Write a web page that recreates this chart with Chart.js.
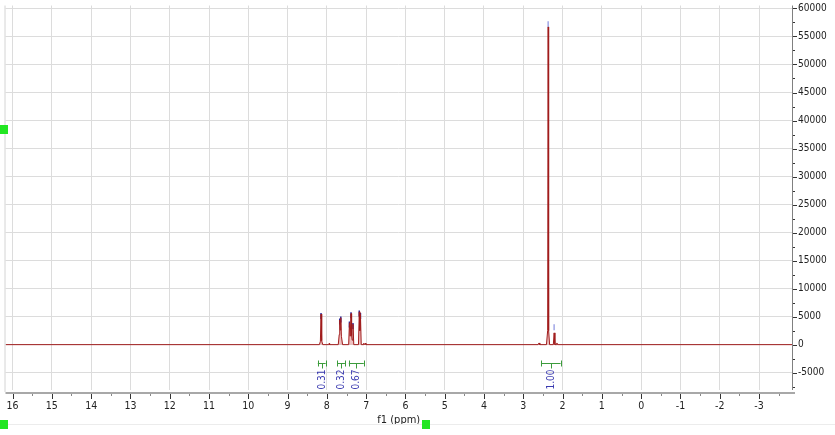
<!DOCTYPE html>
<html>
<head>
<meta charset="utf-8">
<script src="https://cdn.jsdelivr.net/npm/chart.js@4.4.0/dist/chart.umd.min.js"></script>
<style>
  body { margin: 0; background: #fff; }
  #wrap { position: relative; width: 835px; height: 435px; }
  .handle { position: absolute; width: 8px; height: 9px; background: #22e622; }
  #sep { position: absolute; left: 0; top: 424px; width: 835px; height: 1px; background: #ececec; }
</style>
</head>
<body>
<div id="wrap">
  <canvas id="nmr" width="835" height="435"></canvas>
  <div id="sep"></div>
  <div class="handle" style="left:0;top:125px"></div>
  <div class="handle" style="left:0;top:420px"></div>
  <div class="handle" style="left:422px;top:420px"></div>
</div>
<script>
// spectrum trace (ppm, intensity)
const spectrumPpm = [16.18,
  8.19, 8.165, 8.148, 8.138, 8.125, 8.105,
  7.95, 7.94, 7.93,
  7.71, 7.685, 7.672, 7.66, 7.645, 7.63, 7.60,
  7.445, 7.425, 7.405, 7.385, 7.37, 7.355, 7.335, 7.315,
  7.195, 7.175, 7.16, 7.145, 7.125,
  7.07, 7.06, 7.05, 7.03, 7.02, 7.005,
  2.62, 2.60, 2.58,
  2.41, 2.38, 2.367, 2.355, 2.33,
  2.235, 2.215, 2.195,
  2.16, 2.145, 2.13,
  -3.84];
const spectrumIntensity = [0,
  0, 600, 5450, 5100, 700, 0,
  0, 220, 0,
  0, 1800, 4400, 2600, 4800, 1500, 0,
  0, 3900, 1500, 5550, 1600, 800, 3650, 0,
  0, 5850, 2500, 5400, 0,
  0, 250, 0, 0, 250, 0,
  0, 300, 0,
  0, 2500, 56700, 2500, 0,
  0, 2100, 0,
  0, 300, 0,
  0];

// peak picking marks
const peakPpm = [8.148, 7.672, 7.645, 7.425, 7.385, 7.335, 7.175, 7.145, 2.367, 2.215];
const peakMark = [5100, 4150, 4500, 3600, 5250, 3350, 5550, 5100, 57200, 3100];
const peakColors = ['#2828a0','#2828a0','#2828a0','#2828a0','#2828a0','#2828a0','#2828a0','#2828a0','#a0a6e6','#a0a6e6'];

// integrals
const intStart = [8.23, 7.74, 7.44, 2.55];
const intEnd = [8.03, 7.54, 7.06, 2.05];
const intValue = ['0.31', '0.32', '0.67', '1.00'];

// axes
const xTickLabels = [16, 15, 14, 13, 12, 11, 10, 9, 8, 7, 6, 5, 4, 3, 2, 1, 0, -1, -2, -3];
const yTickLabels = [-5000, 0, 5000, 10000, 15000, 20000, 25000, 30000, 35000, 40000,
  45000, 50000, 55000, 60000];
const xMin = -3.84, xMax = 16.18;
const yMin = -8094, yMax = 60528;

const FONT = '"DejaVu Sans Condensed", "DejaVu Sans", sans-serif';

const axisDecor = {
  id: 'axisDecor',
  afterDatasetsDraw(chart) {
    const { ctx, scales: { x, y } } = chart;
    ctx.save();
    const barY = Math.round(y.getPixelForValue(-3200)) + 0.5;
    for (let i = 0; i < intValue.length; i++) {
      const x1 = x.getPixelForValue(intStart[i]);
      const x2 = x.getPixelForValue(intEnd[i]);
      const xc = Math.round((x1 + x2) / 2) + 0.5;
      ctx.strokeStyle = '#3c9c3c';
      ctx.lineWidth = 1;
      ctx.beginPath();
      ctx.moveTo(x1, barY); ctx.lineTo(x2, barY);
      ctx.moveTo(Math.round(x1) + 0.5, barY - 3); ctx.lineTo(Math.round(x1) + 0.5, barY + 3);
      ctx.moveTo(Math.round(x2) + 0.5, barY - 3); ctx.lineTo(Math.round(x2) + 0.5, barY + 3);
      ctx.moveTo(xc, barY); ctx.lineTo(xc, barY + 5);
      ctx.stroke();
      ctx.save();
      ctx.translate(xc, barY + 16);
      ctx.rotate(-Math.PI / 2);
      ctx.fillStyle = '#3a3ab0';
      ctx.font = '10px ' + FONT;
      ctx.textAlign = 'center';
      ctx.textBaseline = 'middle';
      ctx.fillText(intValue[i], 0, 0);
      ctx.restore();
    }
    ctx.restore();
  },
  afterDraw(chart) {
    const { ctx, chartArea: a, scales: { x, y } } = chart;
    ctx.save();
    ctx.lineWidth = 1;
    // left border
    ctx.strokeStyle = '#d4d4d4';
    ctx.beginPath();
    ctx.moveTo(a.left - 0.5, a.top); ctx.lineTo(a.left - 0.5, a.bottom + 2);
    ctx.stroke();
    // x axis line and ticks
    ctx.fillStyle = '#a8a8a8';
    ctx.fillRect(a.left, a.bottom + 2, a.right - a.left + 3, 2);
    x.ticks.forEach(t => {
      const px = Math.round(x.getPixelForValue(t.value)) + 0.5;
      const major = xTickLabels.includes(t.value);
      ctx.strokeStyle = major ? '#333' : '#888';
      ctx.beginPath();
      ctx.moveTo(px, a.bottom + 4);
      ctx.lineTo(px, a.bottom + (major ? 9 : 6));
      ctx.stroke();
    });
    // y axis line and ticks
    ctx.strokeStyle = '#808080';
    ctx.beginPath();
    ctx.moveTo(a.right + 0.5, a.top); ctx.lineTo(a.right + 0.5, a.bottom);
    ctx.stroke();
    y.ticks.forEach(t => {
      const py = Math.round(y.getPixelForValue(t.value)) + 0.5;
      const major = yTickLabels.includes(t.value);
      ctx.strokeStyle = '#333';
      ctx.beginPath();
      ctx.moveTo(a.right + 1, py);
      ctx.lineTo(a.right + (major ? 5 : 3), py);
      ctx.stroke();
    });
    ctx.restore();
  }
};

const ctx = document.getElementById('nmr').getContext('2d');
new Chart(ctx, {
  type: 'line',
  data: {
    datasets: [{
      data: spectrumPpm.map((p, i) => ({ x: p, y: spectrumIntensity[i] })),
      borderColor: '#a01c1c',
      borderWidth: 1,
      backgroundColor: 'rgba(226,150,150,0.6)',
      fill: 'origin',
      pointRadius: 0,
      tension: 0
    }, {
      type: 'scatter',
      data: peakPpm.map((p, i) => ({ x: p, y: peakMark[i] })),
      pointStyle: 'line',
      rotation: 90,
      radius: 3,
      borderWidth: 1.5,
      borderColor: peakColors,
      backgroundColor: peakColors
    }]
  },
  options: {
    responsive: false,
    animation: false,
    devicePixelRatio: 1,
    layout: { padding: { left: 5, top: 0, right: 0, bottom: 0 } },
    plugins: { legend: { display: false }, tooltip: { enabled: false } },
    scales: {
      x: {
        type: 'linear',
        reverse: true,
        min: xMin,
        max: xMax,
        afterBuildTicks(scale) {
          scale.ticks = xTickLabels.flatMap(v => [v, v - 0.5]).map(v => ({ value: v }));
        },
        afterFit(scale) {
          scale.height = 45;
          scale.paddingLeft = 0;
          scale.paddingRight = 0;
        },
        border: { display: false },
        grid: {
          drawTicks: false,
          color: c => xTickLabels.includes(c.tick.value) ? '#dcdcdc' : 'rgba(0,0,0,0)'
        },
        ticks: {
          autoSkip: false,
          maxRotation: 0,
          padding: 10,
          color: '#222',
          font: { family: FONT, size: 10.5 },
          callback: v => xTickLabels.includes(v) ? String(v) : ''
        },
        title: {
          display: true,
          text: 'f1 (ppm)',
          color: '#222',
          font: { family: FONT, size: 11 },
          padding: { top: 0, bottom: 8 }
        }
      },
      y: {
        type: 'linear',
        position: 'right',
        min: yMin,
        max: yMax,
        afterBuildTicks(scale) {
          scale.ticks = yTickLabels.flatMap(v => [v - 2500, v]).map(v => ({ value: v }));
        },
        afterFit(scale) {
          scale.width = 43;
          scale.paddingTop = 0;
          scale.paddingBottom = 0;
        },
        border: { display: false },
        grid: {
          drawTicks: false,
          color: c => yTickLabels.includes(c.tick.value) ? '#dcdcdc' : 'rgba(0,0,0,0)'
        },
        ticks: {
          autoSkip: false,
          padding: 6,
          color: '#222',
          font: { family: FONT, size: 10 },
          callback: v => yTickLabels.includes(v) ? String(v) : ''
        }
      }
    }
  },
  plugins: [axisDecor]
});
</script>
</body>
</html>
